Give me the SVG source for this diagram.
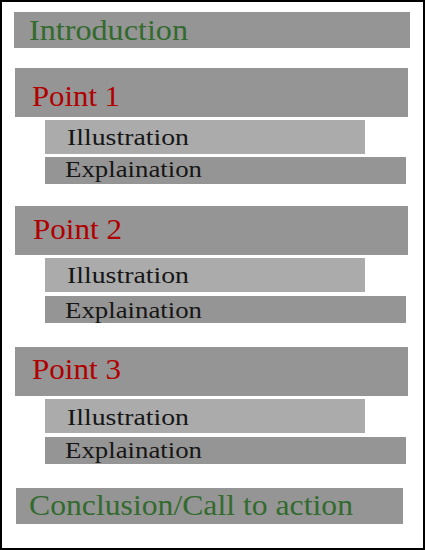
<svg xmlns="http://www.w3.org/2000/svg" width="425" height="550" viewBox="0 0 425 550">
<style>
.box{fill:#959595}
.lite{fill:#ababab}
.t{font-family:"Liberation Serif","DejaVu Serif",serif}
.g{fill:#336a2e;font-size:30px}
.r{fill:#b00000;font-size:30px}
.k{fill:#161616;font-size:24px}
</style>
<rect x="1" y="1" width="423" height="548" fill="#ffffff" stroke="#000000" stroke-width="2"/>
<g id="introduction">
<rect class="box" x="14" y="12" width="396" height="36"/>
<text class="t g" x="29" y="40" textLength="159" lengthAdjust="spacingAndGlyphs">Introduction</text>
</g>
<g id="point1">
<rect class="box" x="15" y="68" width="393" height="49"/>
<text class="t r" x="32" y="106" textLength="88" lengthAdjust="spacingAndGlyphs">Point 1</text>
</g>
<g id="illustration1">
<rect class="lite" x="45" y="120" width="320" height="34"/>
<text class="t k" x="67" y="145" textLength="122" lengthAdjust="spacingAndGlyphs">Illustration</text>
</g>
<g id="explanation1">
<rect class="box" x="45" y="157" width="361" height="27"/>
<text class="t k" x="65" y="177" textLength="137" lengthAdjust="spacingAndGlyphs">Explaination</text>
</g>
<g id="point2">
<rect class="box" x="15" y="206" width="393" height="49"/>
<text class="t r" x="33" y="239" textLength="89" lengthAdjust="spacingAndGlyphs">Point 2</text>
</g>
<g id="illustration2">
<rect class="lite" x="45" y="258" width="320" height="34"/>
<text class="t k" x="67" y="283" textLength="122" lengthAdjust="spacingAndGlyphs">Illustration</text>
</g>
<g id="explanation2">
<rect class="box" x="45" y="296" width="361" height="27"/>
<text class="t k" x="65" y="318" textLength="137" lengthAdjust="spacingAndGlyphs">Explaination</text>
</g>
<g id="point3">
<rect class="box" x="15" y="347" width="393" height="49"/>
<text class="t r" x="32" y="379" textLength="89" lengthAdjust="spacingAndGlyphs">Point 3</text>
</g>
<g id="illustration3">
<rect class="lite" x="45" y="399" width="320" height="34"/>
<text class="t k" x="67" y="425" textLength="122" lengthAdjust="spacingAndGlyphs">Illustration</text>
</g>
<g id="explanation3">
<rect class="box" x="45" y="437" width="361" height="27"/>
<text class="t k" x="65" y="458" textLength="137" lengthAdjust="spacingAndGlyphs">Explaination</text>
</g>
<g id="conclusion">
<rect class="box" x="16" y="488" width="387" height="36"/>
<text class="t g" x="29" y="515" textLength="324" lengthAdjust="spacingAndGlyphs">Conclusion/Call to action</text>
</g>
<g id="connectors"></g>
</svg>
